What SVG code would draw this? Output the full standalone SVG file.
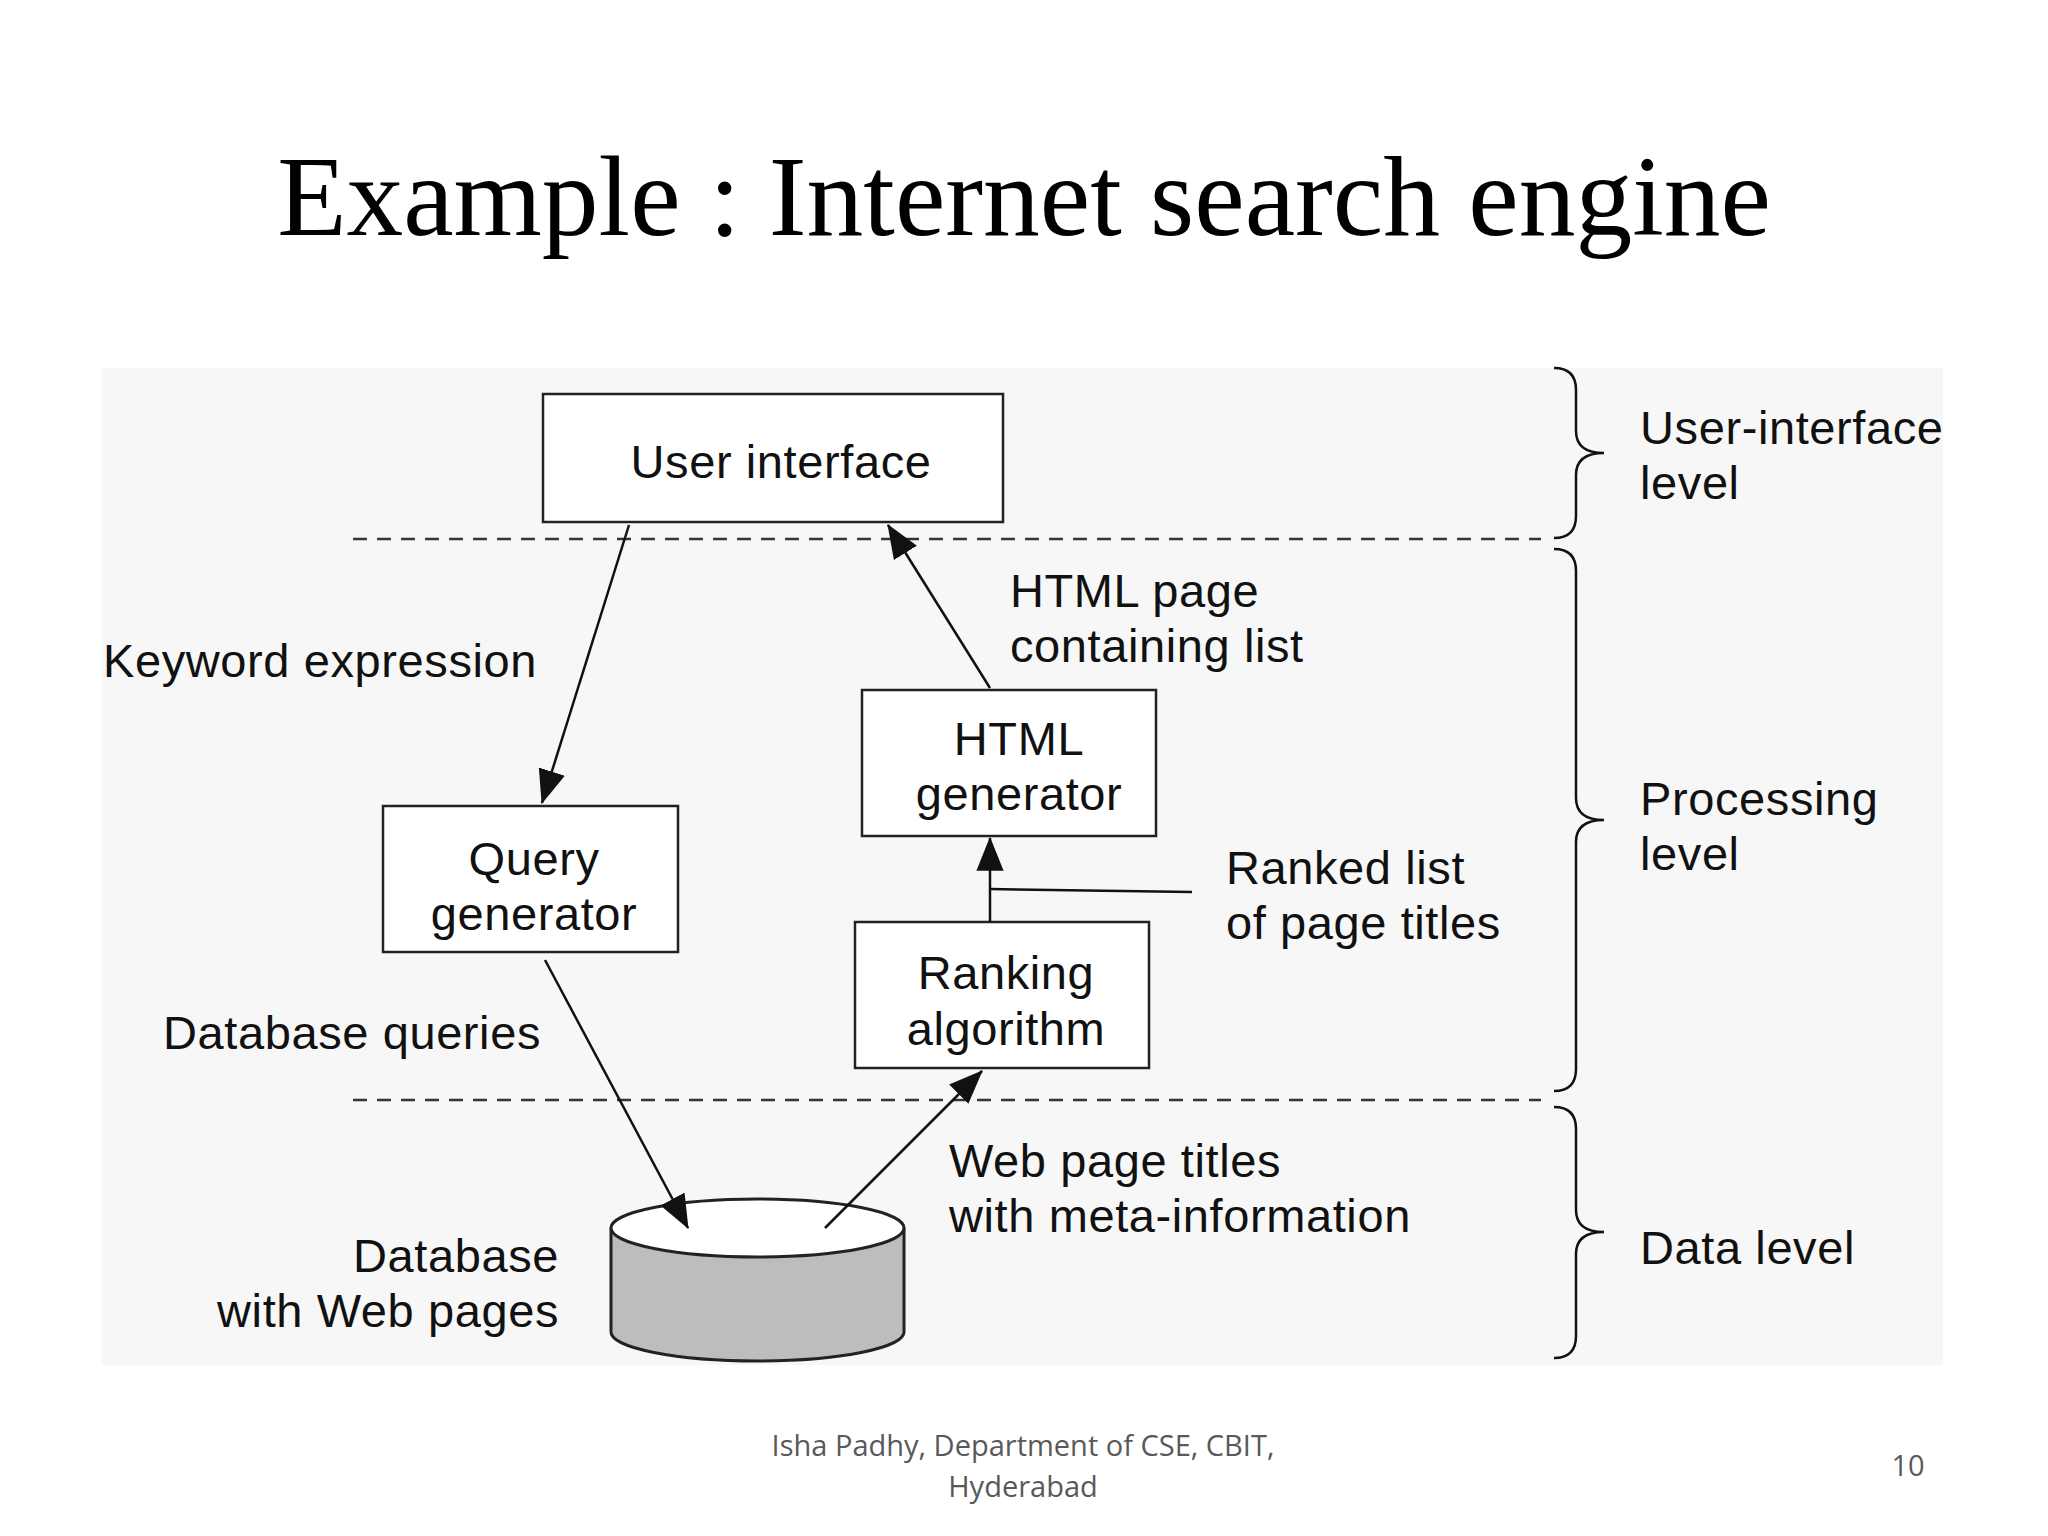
<svg xmlns="http://www.w3.org/2000/svg" width="2048" height="1536" viewBox="0 0 2048 1536">
<style>
.t{font-family:"Liberation Sans",Arial,sans-serif;font-size:47px;letter-spacing:0.6px;fill:#111}
.box{fill:#fff;stroke:#222;stroke-width:2.5}
.ln{stroke:#111;stroke-width:2.5;fill:none}
.dash{stroke:#333;stroke-width:2.5;stroke-dasharray:14 10}
.f{font-family:"Open Sans","Liberation Sans",sans-serif;font-size:29px;fill:#595959}
</style>
<defs><marker id="b" viewBox="0 0 30 30" refX="29" refY="15" markerWidth="34" markerHeight="34" markerUnits="userSpaceOnUse" orient="auto"><path d="M0,3 L30,15 L0,27 z" fill="#111"/></marker></defs>
<rect width="2048" height="1536" fill="#fff"/>
<text x="1024" y="235" text-anchor="middle" font-family="Liberation Serif,Times New Roman,serif" font-size="113.5" fill="#000">Example : Internet search engine</text>
<rect x="102" y="368" width="1841" height="997" fill="#f7f7f7"/>
<g id="dashes"><line class="dash" x1="353" y1="539" x2="1541" y2="539"/><line class="dash" x1="353" y1="1100" x2="1541" y2="1100"/></g>
<g id="ui"><rect class="box" x="543" y="394" width="460" height="128"/><text class="t" x="781" y="478" text-anchor="middle">User interface</text></g>
<g id="qg"><rect class="box" x="383" y="806" width="295" height="146"/><text class="t" x="534" y="875" text-anchor="middle">Query</text><text class="t" x="534" y="930" text-anchor="middle">generator</text></g>
<g id="hg"><rect class="box" x="862" y="690" width="294" height="146"/><text class="t" x="1019" y="755" text-anchor="middle">HTML</text><text class="t" x="1019" y="810" text-anchor="middle">generator</text></g>
<g id="ra"><rect class="box" x="855" y="922" width="294" height="146"/><text class="t" x="1006" y="989" text-anchor="middle">Ranking</text><text class="t" x="1006" y="1045" text-anchor="middle">algorithm</text></g>
<g id="db"><path d="M611,1228 L611,1332 A146.5,29 0 0 0 904,1332 L904,1228" fill="#bdbdbd" stroke="#222" stroke-width="3"/><ellipse cx="757.5" cy="1228" rx="146.5" ry="29" fill="#fff" stroke="#222" stroke-width="3"/>
<text class="t" x="559" y="1272" text-anchor="end">Database</text><text class="t" x="559" y="1327" text-anchor="end">with Web pages</text></g>
<g id="connectors">
<line class="ln" x1="629" y1="525" x2="542" y2="803" marker-end="url(#b)"/>
<line class="ln" x1="990" y1="688" x2="888" y2="525" marker-end="url(#b)"/>
<line class="ln" x1="990" y1="922" x2="990" y2="838" marker-end="url(#b)"/>
<line class="ln" x1="990" y1="889" x2="1192" y2="892"/>
<line class="ln" x1="545" y1="960" x2="688" y2="1228" marker-end="url(#b)"/>
<line class="ln" x1="825" y1="1228" x2="982" y2="1071" marker-end="url(#b)"/>
</g>
<g id="labels">
<text class="t" x="103" y="677">Keyword expression</text>
<text class="t" x="1010" y="607">HTML page</text><text class="t" x="1010" y="662">containing list</text>
<text class="t" x="1226" y="884">Ranked list</text><text class="t" x="1226" y="939">of page titles</text>
<text class="t" x="163" y="1049">Database queries</text>
<text class="t" x="949" y="1177">Web page titles</text><text class="t" x="949" y="1232">with meta-information</text>
</g>
<g id="braces" class="ln">
<path d="M1554,368 Q1576,368 1576,390 L1576,431 Q1576,453 1604,453 Q1576,453 1576,475 L1576,516 Q1576,538 1554,538"/>
<path d="M1554,549 Q1576,549 1576,571 L1576,798 Q1576,820 1604,820 Q1576,820 1576,842 L1576,1069 Q1576,1091 1554,1091"/>
<path d="M1554,1107 Q1576,1107 1576,1129 L1576,1210 Q1576,1232 1604,1232 Q1576,1232 1576,1254 L1576,1336 Q1576,1358 1554,1358"/>
</g>
<g id="levels">
<text class="t" x="1640" y="444">User-interface</text><text class="t" x="1640" y="499">level</text>
<text class="t" x="1640" y="815">Processing</text><text class="t" x="1640" y="870">level</text>
<text class="t" x="1640" y="1264">Data level</text>
</g>
<text class="f" x="1023" y="1456" text-anchor="middle">Isha Padhy, Department of CSE, CBIT,</text>
<text class="f" x="1023" y="1497" text-anchor="middle">Hyderabad</text>
<text class="f" x="1908" y="1476" text-anchor="middle">10</text>
</svg>
